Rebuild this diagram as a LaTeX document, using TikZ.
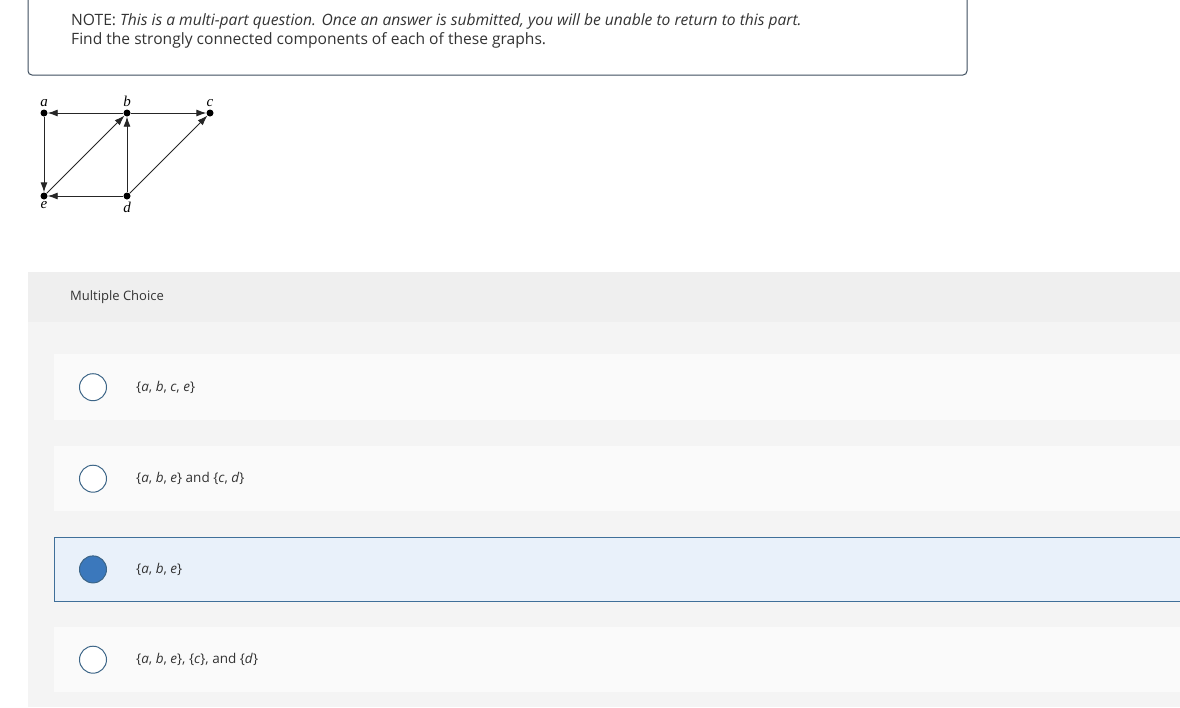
\documentclass[tikz,border=0pt]{standalone}
\usepackage{fontspec}
\setmainfont{Open Sans}
\newfontfamily\graphfont{Liberation Serif}
\usetikzlibrary{arrows.meta,positioning}
\definecolor{boxline}{HTML}{3E4E5E}
\definecolor{bandgray}{HTML}{EFEFEF}
\definecolor{panelgray}{HTML}{F4F4F4}
\definecolor{optwhite}{HTML}{FAFAFA}
\definecolor{selblue}{HTML}{E9F1FA}
\definecolor{selline}{HTML}{3F6F99}
\definecolor{radioline}{HTML}{3C6587}
\definecolor{radiofill}{HTML}{3B78BC}
\definecolor{txtgray}{HTML}{333333}
\tikzset{
  vertex/.style  = {circle, fill=black, inner sep=0pt, minimum size=7pt},
  vlabel/.style  = {font=\graphfont\itshape\fontsize{15}{15}\selectfont, inner sep=0pt},
  edge/.style    = {-{Latex[length=10pt,width=7pt]}, draw=black!85, line width=0.9pt},
  optbox/.style  = {draw=none, fill=optwhite, minimum width=1126pt, anchor=north west,
                    inner sep=0pt},
  radio/.style   = {circle, draw=radioline, fill=white, line width=1pt, minimum size=27pt,
                    inner sep=0pt},
  chosen/.style  = {radio, fill=radiofill},
  opttext/.style = {anchor=west, font=\fontsize{13.5}{13.5}\selectfont, text=txtgray,
                    inner sep=0pt}
}

\begin{document}
\begin{tikzpicture}[x=1pt, y=-1pt]
\useasboundingbox (0,0) rectangle (1180,707);
\fill[white] (0,0) rectangle (1180,707);

% question box
\draw[boxline, line width=1pt, rounded corners=4pt] (28,-10) -- (28,75) -- (967,75) -- (967,-10);
\node[anchor=base west, inner sep=0pt, text=txtgray, font=\fontsize{15.6}{15.6}\selectfont]
  (note) at (71,25) {NOTE: \textit{This is a multi-part question. Once an answer is submitted, you will be unable to return to this part.}};
\node[anchor=base west, inner sep=0pt, text=txtgray, font=\fontsize{15.6}{15.6}\selectfont]
  (task) at (71,44) {Find the strongly connected components of each of these graphs.};

% the graph
\node[vertex] (va) at (44,113) {};
\node[vertex] (vb) at (127,113) {};
\node[vertex] (vc) at (210,113) {};
\node[vertex] (vd) at (127,196) {};
\node[vertex] (ve) at (44,196) {};
\node[vlabel, above=2pt of va] (la) {a};
\node[vlabel, above=2pt of vb] (lb) {b};
\node[vlabel, above=2pt of vc] (lc) {c};
\node[vlabel, below=2pt of vd] (ld) {d};
\node[vlabel, below=2pt of ve] (le) {e};

\draw[edge] (vb) -- (va);
\draw[edge] (va) -- (ve);
\draw[edge] (ve) -- (vb);
\draw[edge] (vd) -- (vb);
\draw[edge] (vd) -- (ve);
\draw[edge] (vb) -- (vc);
\draw[edge] (vd) -- (vc);

% answer panel
\fill[panelgray] (28,272) rectangle (1180,707);
\fill[bandgray] (28,272) rectangle (1180,322);
\node[anchor=west, inner sep=0pt, text=txtgray, font=\fontsize{13}{13}\selectfont]
  (mc) at (70,297) {Multiple Choice};

% options
\node[optbox, minimum height=66pt] (opt1) at (54,354) {};
\node[optbox, minimum height=65pt] (opt2) at (54,446) {};
\node[optbox, minimum height=64pt, fill=selblue, draw=selline, line width=0.8pt] (opt3) at (54,537) {};
\node[optbox, minimum height=65pt] (opt4) at (54,627) {};

\foreach \i/\mytext in {1/{\{\textit{a}, \textit{b}, \textit{c}, \textit{e}\}},
                        2/{\{\textit{a}, \textit{b}, \textit{e}\} and \{\textit{c}, \textit{d}\}},
                        4/{\{\textit{a}, \textit{b}, \textit{e}\}, \{\textit{c}\}, and \{\textit{d}\}}}{
  \node[radio] (rad\i) at (opt\i.west -| 93,0) {};
  \node[opttext] (txt\i) at (opt\i.west -| 136,0) {\mytext};
}
\node[chosen] (rad3) at (opt3.west -| 93,0) {};
\node[opttext] (txt3) at (opt3.west -| 136,0) {\{\textit{a}, \textit{b}, \textit{e}\}};
\end{tikzpicture}
\end{document}
